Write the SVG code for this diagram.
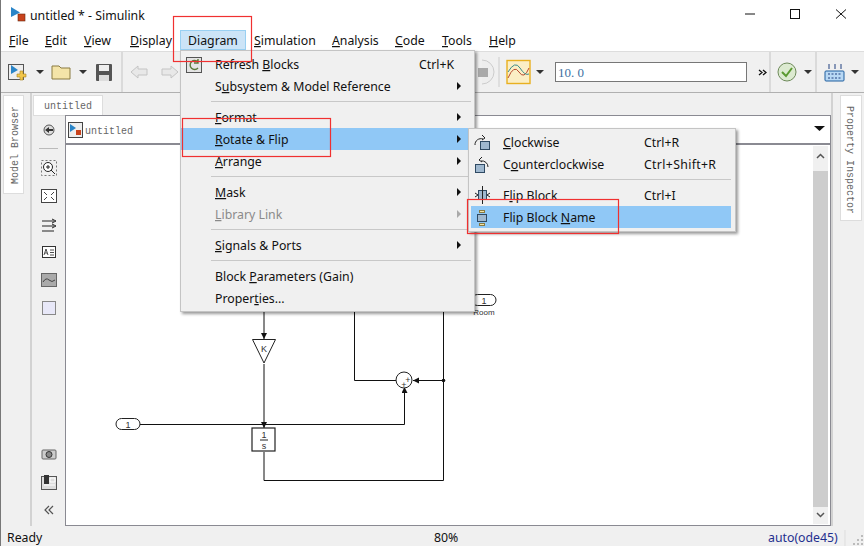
<svg xmlns="http://www.w3.org/2000/svg" width="864" height="546" viewBox="0 0 864 546">
<defs>
<style>
text{font-family:"Noto Sans","Open Sans","Liberation Sans",sans-serif;font-size:12.3px;fill:#111}
.serif{font-family:"Liberation Mono","DejaVu Sans Mono",monospace;font-size:10px;fill:#666}
.u{text-decoration:underline}
.sep{stroke:#c8c8c8;stroke-width:1;fill:none}
.wire{stroke:#111;stroke-width:1;fill:none}
.red{fill:none;stroke:#f03030;stroke-width:1.2}
.menu{fill:#f0f0f0;stroke:#c4c4c4;stroke-width:1}
.hl{fill:#90c8f6}
.tri{fill:#111}
.small{font-size:9px;font-family:"Liberation Sans",sans-serif;fill:#333;text-anchor:middle}
.ico{fill:#9fb8cf;stroke:#2f4a63;stroke-width:1}
</style>
<marker id="arr" markerWidth="7" markerHeight="7" refX="6" refY="3" orient="auto"><path d="M0 0L6 3L0 6Z" fill="#111"/></marker>
<filter id="sh" x="-5%" y="-5%" width="110%" height="110%"><feDropShadow dx="2" dy="2" stdDeviation="1.6" flood-color="#000" flood-opacity=".4"/></filter>
</defs>

<g id="window">
<rect width="864" height="546" fill="#f0f0f0"/>
<rect width="864" height="51" fill="#fff"/>
<rect x="0" y="0" width="1" height="546" fill="#777"/>
<rect x="1" y="51" width="863" height="1" fill="#ddd"/>
<rect x="1" y="92" width="863" height="1" fill="#b0b0b0"/>
<path d="M122 52V92M770 52V92M816 52V92" stroke="#c4c4c4"/>
<path d="M31 92V526" stroke="#b4b4b4"/>
<path d="M832 92V526" stroke="#b4b4b4"/>
</g>

<g id="titlebar">
<path d="M11 7L20 12.500L11 17Z" fill="#2a85c8"/><rect x="18" y="14" width="7" height="7" fill="#c8421c" stroke="#6a2a10" stroke-width=".6"/>
<text x="30" y="20">untitled * - Simulink</text>
<path d="M745 14H755" stroke="#111"/><rect x="790.500" y="9.500" width="9" height="9" fill="none" stroke="#111"/><path d="M836 9.500L846 18.500M846 9.500L836 18.500" stroke="#111"/>
</g>

<g id="menubar">
<rect x="180.500" y="30.500" width="65" height="19" fill="#cce4f7" stroke="#99d0f2"/>
<text x="9" y="45"><tspan class="u">F</tspan>ile</text>
<text x="45" y="45"><tspan class="u">E</tspan>dit</text>
<text x="84" y="45"><tspan class="u">V</tspan>iew</text>
<text x="130" y="45"><tspan class="u">D</tspan>isplay</text>
<text x="188" y="45">Dia<tspan class="u">g</tspan>ram</text>
<text x="254" y="45"><tspan class="u">S</tspan>imulation</text>
<text x="332" y="45"><tspan class="u">A</tspan>nalysis</text>
<text x="395" y="45"><tspan class="u">C</tspan>ode</text>
<text x="442" y="45"><tspan class="u">T</tspan>ools</text>
<text x="489" y="45"><tspan class="u">H</tspan>elp</text>
</g>

<g id="toolbar">
<rect x="8.500" y="64.500" width="15" height="15" fill="#eee" stroke="#555"/><path d="M11 65L18 70L11 74Z" fill="#2a85c8"/><path d="M20 71h3v3h3v3h-3v3h-3v-3h-3v-3h3z" fill="#f2c64a" stroke="#a88420" stroke-width=".6"/>
<path d="M36 70h8l-4 4z" fill="#333"/>
<path d="M52 66h7l2 2h9v11H52z" fill="#f4e4a8" stroke="#8a7a40"/>
<path d="M79 70h8l-4 4z" fill="#333"/>
<rect x="96" y="64" width="16" height="17" rx="1" fill="#555"/><rect x="99" y="65" width="10" height="6" fill="#eee"/><rect x="99" y="75" width="10" height="6" fill="#ddd"/>
<path d="M131 72l7-6v3h9v6h-9v3z" fill="#e8e8e8" stroke="#c4c4c4"/>
<path d="M178 72l-7-6v3h-9v6h9v3z" fill="#e8e8e8" stroke="#c4c4c4"/>
<path d="M482 60a12 12 0 0 1 0 24" fill="#eee" stroke="#ccc"/><rect x="478" y="68" width="10" height="9" fill="#aaa"/>
<path d="M499 57V87" stroke="#ccc"/>
<rect x="507" y="60.500" width="23" height="23" fill="#fbeec5" stroke="#e8b020" stroke-width="1.400"/>
<path d="M508 78q6-14 11-6t10-4" fill="none" stroke="#b84a30"/><path d="M508 72q7-12 12-4t9 6" fill="none" stroke="#3a8a8a"/>
<path d="M536 70h8l-4 4z" fill="#333"/>
<rect x="555.500" y="62.500" width="191" height="19" fill="#fff" stroke="#777"/>
<text x="558" y="77" style="font-family:'Liberation Serif',serif;font-size:13px;fill:#3d6f9f">10. 0</text>
<path d="M759 70l3 2.500-3 2.500M763 70l3 2.500-3 2.500" fill="none" stroke="#111" stroke-width="1.300"/>
<circle cx="787" cy="72" r="9" fill="#dcead0" stroke="#6e8a5a"/><path d="M782 72l4 4 6-8" fill="none" stroke="#5a9a30" stroke-width="2"/>
<path d="M804 70h8l-4 4z" fill="#333"/>
<rect x="825" y="71" width="19" height="10" rx="1" fill="#b8d8f4" stroke="#1f5f9f"/><path d="M828 74h14M828 78h14" stroke="#1f3f7f" stroke-dasharray="2 1.500"/><path d="M829 64v5M835 64v5M841 64v5" stroke="#1f3f7f"/>
<path d="M851 70h8l-4 4z" fill="#333"/>
</g>

<g id="sidebars">
<rect x="3.500" y="95.500" width="20" height="98" fill="#fff" stroke="#ddd"/>
<text class="serif" transform="translate(18,184) rotate(-90)">Model Browser</text>
<rect x="840.500" y="95.500" width="21" height="125" fill="#fff" stroke="#ddd"/>
<text class="serif" transform="translate(847,106) rotate(90)">Property Inspector</text>
<rect x="33.500" y="95.500" width="69" height="20" fill="#fff" stroke="#ddd"/>
<text class="serif" x="44" y="109">untitled</text>
<circle cx="49" cy="130" r="5" fill="#ddd" stroke="#555"/><path d="M45 130l4-3v2h4v2h-4v2z" fill="#333"/>
<path d="M39 148.500H58" stroke="#bbb"/>
<rect x="41.500" y="160.500" width="15" height="15" fill="none" stroke="#777" stroke-dasharray="2 2"/><circle cx="48" cy="167" r="4.500" fill="#fff" stroke="#222"/><path d="M46 167h4M48 165v4M51 170l4 4" stroke="#222"/>
<rect x="41.500" y="189.500" width="15" height="13" fill="#fff" stroke="#444"/><path d="M44 192l3 3M54 192l-3 3M44 200l3-3M54 200l-3-3" stroke="#444"/>
<path d="M42 221h12M42 226h12M42 231h12M52 219l4 2-4 2M52 224l4 2-4 2" fill="none" stroke="#222"/>
<rect x="42.500" y="246.500" width="13" height="11" fill="#fff" stroke="#333"/><path d="M44 255l2-6 2 6M45 253h2M50 250h4M50 252.500h4M50 255h4" fill="none" stroke="#222" stroke-width=".8"/>
<rect x="41.500" y="273.500" width="15" height="13" fill="#aaa" stroke="#666"/><path d="M43 282q3-5 6-2t6 0" fill="none" stroke="#444"/>
<rect x="42.500" y="301.500" width="13" height="13" fill="#e8e8f8" stroke="#888"/>
<rect x="42" y="450" width="14" height="9" rx="1" fill="#ccc" stroke="#666"/><circle cx="49" cy="454.500" r="3" fill="#888" stroke="#333"/>
<rect x="41.500" y="476.500" width="15" height="13" fill="#ddd" stroke="#555"/><rect x="44" y="475" width="5" height="9" fill="#333"/><path d="M50 478h5v4h-5zM44 485h11" fill="none" stroke="#fff"/>
<path d="M49 506l-4 4 4 4M53 506l-4 4 4 4" fill="none" stroke="#555" stroke-width="1.200"/>
</g>

<g id="canvas">
<rect x="65.500" y="115.500" width="765" height="29" fill="#fff" stroke="#8a8a92"/>
<rect x="65.500" y="144.500" width="765" height="381" fill="#fff" stroke="#8a8a92"/>
<rect x="65" y="143" width="766" height="2" fill="#8a8a92"/>
<rect x="68.500" y="122.500" width="14" height="15" fill="#eee" stroke="#444"/><path d="M70 124l6 4-6 4z" fill="#2a85c8"/><rect x="76" y="130" width="5" height="5" fill="#c8421c"/>
<text class="serif" x="85" y="134">untitled</text>
<path d="M814 126h11l-5.500 5z" fill="#111"/>
<rect x="813" y="146" width="15" height="378" fill="#f0f0f0"/>
<rect x="813" y="171" width="15" height="336" fill="#cdcdcd"/>
<path d="M817 158l3.500-3.500 3.500 3.500M817 513l3.500 3.500 3.500-3.500" fill="none" stroke="#555" stroke-width="1.500"/>
</g>

<g id="connectors">
<path class="wire" d="M264 300V339" marker-end="url(#arr)"/>
<path class="wire" d="M264 364V428" marker-end="url(#arr)"/>
<path class="wire" d="M140 424.500H404.500V387" marker-end="url(#arr)"/>
<path class="wire" d="M264 452V480.500H443.500V300"/>
<path class="wire" d="M443.500 380.500H413" marker-end="url(#arr)"/>
<path class="wire" d="M354.500 300V380.500H396"/>
<circle cx="443.500" cy="380.500" r="1.800" fill="#111"/>
</g>

<g id="gain">
<path d="M252.500 339.500H275.500L264 363Z" fill="#fff" stroke="#222"/>
<text class="small" x="264" y="352">K</text>
</g>
<g id="integrator">
<rect x="252" y="428" width="23" height="23" fill="#fff" stroke="#222" stroke-width="1.200"/>
<text class="small" x="264" y="438">1</text><path d="M260 440H268" stroke="#222"/><text class="small" x="264" y="449">s</text>
</g>
<g id="sum">
<circle cx="404" cy="380" r="8" fill="#fff" stroke="#222"/>
<text class="small" x="408" y="383">+</text><text class="small" x="404" y="387.500">+</text>
</g>
<g id="inport">
<rect x="116" y="418.500" width="24" height="11" rx="5.500" fill="#fff" stroke="#222"/>
<text class="small" x="128" y="427.500">1</text>
</g>
<g id="outport">
<rect x="472" y="294.500" width="24" height="11" rx="5.500" fill="#fff" stroke="#222"/>
<text class="small" x="484" y="303.500">1</text>
<text class="small" x="484" y="315" style="font-size:8px">Room</text>
</g>

<g id="status">
<text x="7" y="542">Ready</text>
<text x="434" y="542">80%</text>
<text x="768" y="542" style="fill:#1f2f8f">auto(ode45)</text>
<path d="M845 530V546" stroke="#ddd"/>
<path d="M857 539h2v2h-2zM853 543h2v2h-2zM857 543h2v2h-2zM861 535h2v2h-2zM861 539h2v2h-2zM861 543h2v2h-2z" fill="#bbb"/>
</g>

<g id="menu-diagram">
<rect class="menu" x="180.500" y="50.500" width="294" height="261" filter="url(#sh)"/>
<rect class="hl" x="181" y="128" width="294" height="22"/>
<path class="sep" d="M211 101.500H471M211 176.500H471M211 229.500H471M211 260.500H471"/>
<rect x="186.500" y="57.500" width="15" height="15" fill="#e4e4e4" stroke="#555"/><path d="M198 62a4.500 4.500 0 1 0 0 6M198 59v4h-4" fill="none" stroke="#5a7a3a" stroke-width="1.400"/>
<text x="215" y="69">Refresh <tspan class="u">B</tspan>locks</text>
<text x="419" y="69">Ctrl+K</text>
<text x="215" y="91">S<tspan class="u">u</tspan>bsystem &amp; Model Reference</text>
<text x="215" y="122"><tspan class="u">F</tspan>ormat</text>
<text x="215" y="144"><tspan class="u">R</tspan>otate &amp; Flip</text>
<text x="215" y="166"><tspan class="u">A</tspan>rrange</text>
<text x="215" y="197"><tspan class="u">M</tspan>ask</text>
<text x="215" y="219" style="fill:#8a8a8a"><tspan class="u">L</tspan>ibrary Link</text>
<text x="215" y="250"><tspan class="u">S</tspan>ignals &amp; Ports</text>
<text x="215" y="281">Block <tspan class="u">P</tspan>arameters (Gain)</text>
<text x="215" y="303">Proper<tspan class="u">t</tspan>ies...</text>
<path class="tri" d="M457 82l4 4-4 4zM457 113l4 4-4 4zM457 135l4 4-4 4zM457 157l4 4-4 4zM457 188l4 4-4 4zM457 241l4 4-4 4z"/>
<path d="M457 210l4 4-4 4z" fill="#aaa"/>
</g>

<g id="menu-rotate">
<rect class="menu" x="468.500" y="128.500" width="267" height="103" filter="url(#sh)"/>
<rect class="hl" x="471" y="206" width="260" height="22"/>
<path class="sep" d="M499 179.500H731"/>
<rect class="ico" x="480.500" y="141.500" width="9" height="8"/><path d="M475 145a6 6 0 0 1 8-6M482 135l3 3-3 2" fill="none" stroke="#222"/>
<rect class="ico" x="475.500" y="164.500" width="9" height="8"/><path d="M488 167a6 6 0 0 0-7-6M482 157l-3 3 3 2" fill="none" stroke="#222"/>
<rect class="ico" x="478.500" y="190.500" width="8" height="9"/><path d="M482.500 186v18M475 193l3 2-3 2M490 193l-3 2 3 2" fill="none" stroke="#222"/>
<rect class="ico" x="477.500" y="214.500" width="9" height="7"/><rect x="479.500" y="210.500" width="5" height="2" fill="#f4e4a8" stroke="#8a7a40"/><rect x="479.500" y="223.500" width="5" height="2" fill="#f4e4a8" stroke="#8a7a40"/>
<text x="503" y="147"><tspan class="u">C</tspan>lockwise</text>
<text x="644" y="147">Ctrl+R</text>
<text x="503" y="169">C<tspan class="u">o</tspan>unterclockwise</text>
<text x="644" y="169" textLength="72">Ctrl+Shift+R</text>
<text x="503" y="200">F<tspan class="u">l</tspan>ip Block</text>
<text x="644" y="200">Ctrl+I</text>
<text x="503" y="222">Flip Block <tspan class="u">N</tspan>ame</text>
</g>

<g id="callouts">
<rect class="red" x="173.500" y="16.500" width="78" height="45"/>
<rect class="red" x="182.500" y="118.500" width="148" height="38"/>
<rect class="red" x="467.500" y="199.500" width="151" height="34"/>
</g>
</svg>
